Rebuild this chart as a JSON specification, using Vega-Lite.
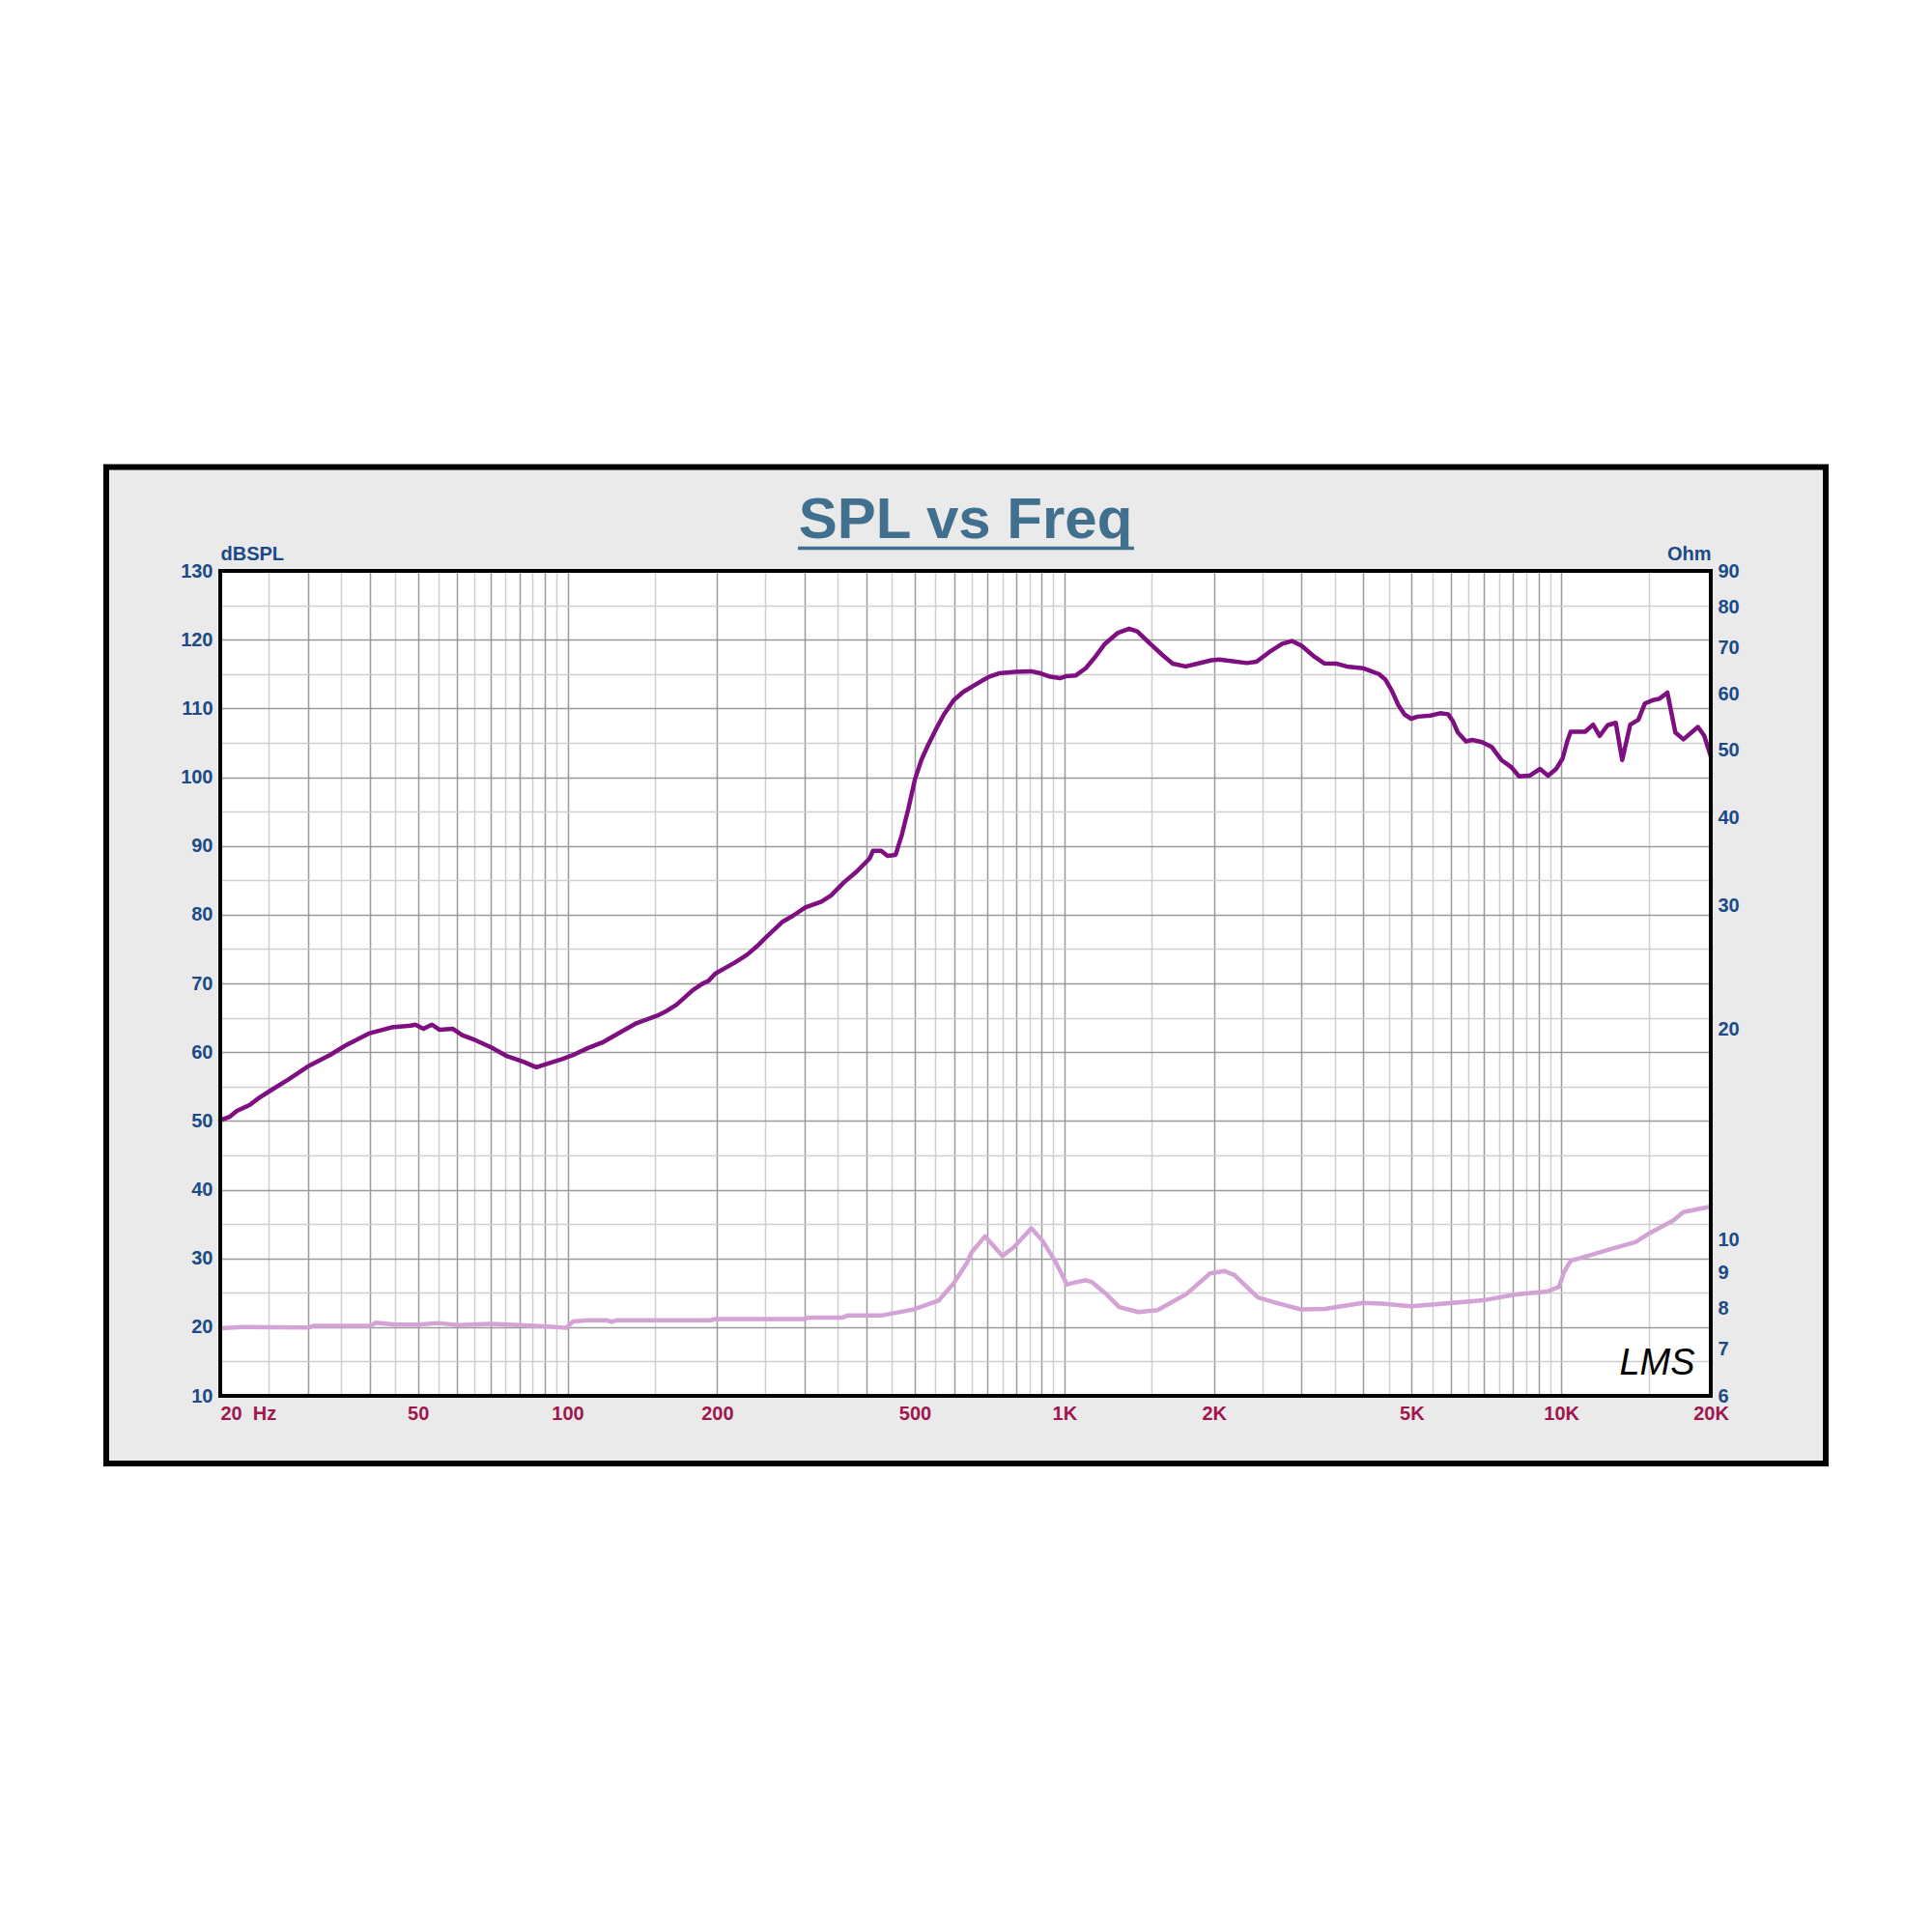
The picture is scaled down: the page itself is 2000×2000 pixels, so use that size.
{
  "$schema": "https://vega.github.io/schema/vega-lite/v6.json",
  "width": 1543,
  "height": 854,
  "autosize": {"type": "none"},
  "padding": {"left": 228, "top": 591, "right": 229, "bottom": 555},
  "background": "white",
  "config": {"view": {"stroke": null, "fill": "white"}, "font": "Liberation Sans"},
  "title": {
    "text": "SPL vs Freq",
    "anchor": "middle",
    "font": "Liberation Sans",
    "fontSize": 60,
    "fontWeight": "bold",
    "color": "#41708f",
    "baseline": "alphabetic",
    "offset": -136,
    "zindex": 1
  },
  "datasets": {
    "spl": [
      {"f":20,"db":50.1},{"f":20.9,"db":50.6},{"f":21.6,"db":51.45},{"f":22.9,"db":52.3},{"f":24,"db":53.4},{"f":25.1,"db":54.3},{"f":27.4,"db":56.0},{"f":30,"db":57.9},{"f":33.3,"db":59.6},{"f":35.9,"db":61.05},{"f":39.8,"db":62.7},{"f":44.2,"db":63.6},{"f":48.3,"db":63.85},{"f":49.4,"db":64.0},{"f":51.3,"db":63.4},{"f":53.3,"db":64.0},{"f":55.3,"db":63.25},{"f":58.7,"db":63.4},{"f":61.4,"db":62.45},{"f":65.2,"db":61.75},{"f":70.2,"db":60.7},{"f":75.6,"db":59.4},{"f":81.5,"db":58.6},{"f":86.5,"db":57.8},{"f":91.8,"db":58.4},{"f":97.5,"db":59.0},{"f":102,"db":59.5},{"f":110,"db":60.6},{"f":117.5,"db":61.4},
      {"f":137.5,"db":64.2},{"f":151.5,"db":65.3},{"f":158.4,"db":66.0},{"f":165.7,"db":66.9},{"f":178.6,"db":69.0},{"f":186.8,"db":69.95},{"f":192.4,"db":70.4},{"f":198.2,"db":71.4},{"f":216.8,"db":73.0},{"f":230.1,"db":74.2},{"f":240.6,"db":75.4},{"f":251.7,"db":76.8},{"f":271.3,"db":79.0},{"f":283.7,"db":79.8},{"f":301,"db":81.05},{"f":324.4,"db":81.9},{"f":339.3,"db":82.8},{"f":360.1,"db":84.7},{"f":382.4,"db":86.3},{"f":405.8,"db":88.2},{"f":412,"db":89.3},{"f":427.8,"db":89.3},{"f":440.6,"db":88.55},{"f":457.4,"db":88.7},{"f":471.2,"db":91.7},{"f":485.6,"db":95.5},{"f":500.4,"db":99.7},{"f":515.4,"db":102.5},{"f":531.2,"db":104.6},{"f":555.5,"db":107.4},{"f":572,"db":109.1},{"f":599,"db":111.2},{"f":626,"db":112.4},{"f":664,"db":113.5},{"f":705,"db":114.6},{"f":738,"db":115.1},{"f":795,"db":115.3},{"f":857,"db":115.4},{"f":896,"db":115.1},{"f":937,"db":114.6},{"f":980,"db":114.4},{"f":1009,"db":114.7},{"f":1055,"db":114.8},{"f":1104,"db":115.85},{"f":1154,"db":117.5},{"f":1207,"db":119.4},{"f":1282,"db":121.0},{"f":1350,"db":121.6},{"f":1402,"db":121.2},{"f":1488,"db":119.4},{"f":1579,"db":117.7},{"f":1652,"db":116.5},{"f":1754,"db":116.1},{"f":1862,"db":116.55},{"f":1976,"db":117.0},{"f":2052,"db":117.1},{"f":2162,"db":116.9},{"f":2329,"db":116.6},{"f":2436,"db":116.8},{"f":2586,"db":118.2},{"f":2746,"db":119.4},{"f":2871,"db":119.8},{"f":3003,"db":119.1},{"f":3188,"db":117.5},{"f":3333,"db":116.55},{"f":3538,"db":116.5},{"f":3700,"db":116.1},{"f":3988,"db":115.85},{"f":4109,"db":115.5},{"f":4296,"db":115.0},{"f":4426,"db":114.2},{"f":4560,"db":112.6},{"f":4699,"db":110.5},{"f":4841,"db":109.1},{"f":4988,"db":108.5},{"f":5140,"db":108.8},{"f":5457,"db":108.96},{"f":5706,"db":109.3},{"f":5921,"db":109.15},{"f":6056,"db":108.1},{"f":6194,"db":106.5},{"f":6431,"db":105.2},{"f":6622,"db":105.4},{"f":6926,"db":105.1},{"f":7244,"db":104.4},{"f":7576,"db":102.5},{"f":7922,"db":101.5},{"f":8227,"db":100.1},{"f":8666,"db":100.25},{"f":9063,"db":101.2},{"f":9411,"db":100.2},{"f":9767,"db":101.2},{"f":10064,"db":102.7},{"f":10292,"db":105.3},{"f":10446,"db":106.6},{"f":11172,"db":106.6},{"f":11594,"db":107.65},{"f":11948,"db":106.0},{"f":12400,"db":107.55},{"f":12878,"db":107.9},{"f":13264,"db":102.5},{"f":13773,"db":107.65},{"f":14295,"db":108.35},{"f":14730,"db":110.7},{"f":15290,"db":111.2},{"f":15755,"db":111.4},{"f":16355,"db":112.3},{"f":16972,"db":106.5},{"f":17618,"db":105.5},{"f":18845,"db":107.3},{"f":19407,"db":106.0},{"f":20000,"db":103.0}
    ],
    "imp": [
      {"f":20,"ohm":7.49},{"f":22.1,"ohm":7.52},{"f":30.1,"ohm":7.51},{"f":30.8,"ohm":7.55},{"f":40.2,"ohm":7.55},{"f":41.1,"ohm":7.63},{"f":45,"ohm":7.58},{"f":50,"ohm":7.58},{"f":55,"ohm":7.62},{"f":60,"ohm":7.57},{"f":70,"ohm":7.6},{"f":80,"ohm":7.57},{"f":91.7,"ohm":7.53},{"f":99.4,"ohm":7.5},{"f":102.6,"ohm":7.66},{"f":109.7,"ohm":7.69},{"f":120,"ohm":7.69},{"f":122.7,"ohm":7.65},{"f":125.5,"ohm":7.69},{"f":193.8,"ohm":7.69},{"f":198,"ohm":7.72},{"f":299,"ohm":7.72},{"f":306,"ohm":7.76},{"f":358,"ohm":7.76},{"f":366,"ohm":7.81},{"f":428,"ohm":7.81},{"f":448,"ohm":7.86},{"f":498,"ohm":7.97},{"f":558,"ohm":8.2},{"f":597,"ohm":8.66},{"f":636,"ohm":9.27},{"f":650,"ohm":9.6},{"f":692,"ohm":10.13},{"f":750,"ohm":9.5},{"f":791,"ohm":9.77},{"f":858,"ohm":10.4},{"f":905,"ohm":9.97},{"f":957,"ohm":9.35},{"f":1012,"ohm":8.65},{"f":1060,"ohm":8.72},{"f":1105,"ohm":8.77},{"f":1135,"ohm":8.72},{"f":1210,"ohm":8.4},{"f":1289,"ohm":8.03},{"f":1410,"ohm":7.9},{"f":1540,"ohm":7.95},{"f":1760,"ohm":8.38},{"f":1964,"ohm":8.97},{"f":2100,"ohm":9.04},{"f":2198,"ohm":8.92},{"f":2452,"ohm":8.29},{"f":2676,"ohm":8.14},{"f":2993,"ohm":7.97},{"f":3344,"ohm":7.98},{"f":3988,"ohm":8.14},{"f":4360,"ohm":8.12},{"f":4982,"ohm":8.05},{"f":5808,"ohm":8.12},{"f":6948,"ohm":8.21},{"f":8110,"ohm":8.37},{"f":9363,"ohm":8.45},{"f":9898,"ohm":8.58},{"f":10125,"ohm":9.0},{"f":10446,"ohm":9.35},{"f":11302,"ohm":9.5},{"f":12608,"ohm":9.72},{"f":14100,"ohm":9.94},{"f":15082,"ohm":10.24},{"f":16842,"ohm":10.68},{"f":17606,"ohm":10.97},{"f":20000,"ohm":11.17}
    ]
  },
  "layer": [
    {
      "data": {"values": [{}]},
      "mark": {"type": "rect", "fill": "#eaeaea", "strokeWidth": 0},
      "encoding": {
        "x": {"datum": 11.79, "type": "quantitative", "scale": {"type": "log", "domain": [20, 20000], "nice": false}, "axis": null},
        "x2": {"datum": 34072},
        "y": {"datum": 130, "type": "quantitative", "scale": {"type": "linear", "domain": [10, 130], "nice": false, "zero": false}, "axis": null},
        "y2": {"datum": 145.1}
      }
    },
    {
      "data": {"values": [{}]},
      "mark": {"type": "rect", "fill": "#eaeaea", "strokeWidth": 0},
      "encoding": {
        "x": {"datum": 11.79, "type": "quantitative", "scale": {"type": "log", "domain": [20, 20000], "nice": false}, "axis": null},
        "x2": {"datum": 34072},
        "y": {"datum": 0.16, "type": "quantitative", "scale": {"type": "linear", "domain": [10, 130], "nice": false, "zero": false}, "axis": null},
        "y2": {"datum": 10}
      }
    },
    {
      "data": {"values": [{}]},
      "mark": {"type": "rect", "fill": "#eaeaea", "strokeWidth": 0},
      "encoding": {
        "x": {"datum": 11.79, "type": "quantitative", "scale": {"type": "log", "domain": [20, 20000], "nice": false}, "axis": null},
        "x2": {"datum": 20},
        "y": {"datum": 0.16, "type": "quantitative", "scale": {"type": "linear", "domain": [10, 130], "nice": false, "zero": false}, "axis": null},
        "y2": {"datum": 145.1}
      }
    },
    {
      "data": {"values": [{}]},
      "mark": {"type": "rect", "fill": "#eaeaea", "strokeWidth": 0},
      "encoding": {
        "x": {"datum": 20000, "type": "quantitative", "scale": {"type": "log", "domain": [20, 20000], "nice": false}, "axis": null},
        "x2": {"datum": 34072},
        "y": {"datum": 0.16, "type": "quantitative", "scale": {"type": "linear", "domain": [10, 130], "nice": false, "zero": false}, "axis": null},
        "y2": {"datum": 145.1}
      }
    },
    {
      "data": {"values": [{}]},
      "mark": {"type": "rect", "filled": false, "stroke": "#000000", "strokeWidth": 6},
      "encoding": {
        "x": {"datum": 11.79, "type": "quantitative", "scale": {"type": "log", "domain": [20, 20000], "nice": false}, "axis": null},
        "x2": {"datum": 34072},
        "y": {"datum": 0.16, "type": "quantitative", "scale": {"type": "linear", "domain": [10, 130], "nice": false, "zero": false}, "axis": null},
        "y2": {"datum": 145.1}
      }
    },
    {
      "data": {"values": [{}]},
      "mark": {"type": "rule", "color": "#41708f", "strokeWidth": 3.5},
      "encoding": {
        "x": {"datum": 290.8, "type": "quantitative", "scale": {"type": "log", "domain": [20, 20000], "nice": false}, "axis": null},
        "x2": {"datum": 1381},
        "y": {"datum": 133.3, "type": "quantitative", "scale": {"type": "linear", "domain": [10, 130], "nice": false, "zero": false}, "axis": null}
      }
    },
    {
      "data": {"name": "spl"},
      "mark": {"type": "line", "color": "#7e0f80", "strokeWidth": 4.5, "strokeJoin": "round", "strokeCap": "round"},
      "encoding": {
        "x": {
          "field": "f", "type": "quantitative",
          "scale": {"type": "log", "domain": [20, 20000], "nice": false},
          "axis": {
            "orient": "bottom",
            "title": null,
            "values": [20,50,100,200,500,1000,2000,5000,10000,20000],
            "labelExpr": "datum.value == 20 ? '20\u00a0\u00a0Hz' : datum.value == 1000 ? '1K' : datum.value == 2000 ? '2K' : datum.value == 5000 ? '5K' : datum.value == 10000 ? '10K' : datum.value == 20000 ? '20K' : datum.label",
            "labelOverlap": false,
            "labelFlush": false,
            "labelAlign": {"condition": {"test": "datum.value == 20", "value": "left"}, "value": "center"},
            "labelFont": "Liberation Sans",
            "labelFontSize": 20,
            "labelFontWeight": "bold",
            "labelColor": "#a0174f",
            "labelPadding": 8,
            "ticks": false,
            "domain": false,
            "grid": false,
            "zindex": 1
          }
        },
        "y": {
          "field": "db", "type": "quantitative",
          "scale": {"type": "linear", "domain": [10, 130], "nice": false, "zero": false},
          "axis": {
            "orient": "left",
            "values": [10,20,30,40,50,60,70,80,90,100,110,120,130],
            "labelOverlap": false,
            "labelFlush": false,
            "labelFont": "Liberation Sans",
            "labelFontSize": 20,
            "labelFontWeight": "bold",
            "labelColor": "#1b4a87",
            "labelPadding": 8,
            "ticks": false,
            "domain": false,
            "grid": false,
            "zindex": 1,
            "title": "dBSPL",
            "titleAngle": 0,
            "titleX": 0,
            "titleY": -18,
            "titleAlign": "left",
            "titleBaseline": "middle",
            "titleFont": "Liberation Sans",
            "titleFontSize": 20,
            "titleFontWeight": "bold",
            "titleColor": "#1b4a87"
          }
        }
      }
    },
    {
      "data": {"name": "imp"},
      "mark": {"type": "line", "color": "#d3a3d6", "strokeWidth": 4.5, "strokeJoin": "round", "strokeCap": "round"},
      "encoding": {
        "x": {"field": "f", "type": "quantitative", "scale": {"type": "log", "domain": [20, 20000], "nice": false}, "axis": null},
        "y": {
          "field": "ohm", "type": "quantitative",
          "scale": {"type": "log", "domain": [6, 90], "nice": false},
          "axis": {
            "orient": "right",
            "values": [6,7,8,9,10,20,30,40,50,60,70,80,90],
            "format": "d",
            "labelOverlap": false,
            "labelFlush": false,
            "labelFont": "Liberation Sans",
            "labelFontSize": 20,
            "labelFontWeight": "bold",
            "labelColor": "#1b4a87",
            "labelPadding": 7,
            "ticks": false,
            "domain": false,
            "grid": false,
            "zindex": 1,
            "title": "Ohm",
            "titleAngle": 0,
            "titleX": 0,
            "titleY": -18,
            "titleAlign": "right",
            "titleBaseline": "middle",
            "titleFont": "Liberation Sans",
            "titleFontSize": 20,
            "titleFontWeight": "bold",
            "titleColor": "#1b4a87"
          }
        }
      }
    },
    {
      "data": {"values": [{}]},
      "mark": {"type": "rect", "filled": false, "stroke": "#000000", "strokeWidth": 4},
      "encoding": {
        "x": {
          "datum": 20, "type": "quantitative", "scale": {"type": "log", "domain": [20, 20000], "nice": false},
          "axis": {
            "orient": "bottom",
            "title": null,
            "labels": false,
            "ticks": false,
            "domain": false,
            "grid": true,
            "zindex": 0,
            "minExtent": 0,
            "maxExtent": 0,
            "values": [20,25,30,35,40,45,50,55,60,65,70,75,80,85,90,95,100,150,200,250,300,350,400,450,500,550,600,650,700,750,800,850,900,950,1000,1500,2000,2500,3000,3500,4000,4500,5000,5500,6000,6500,7000,7500,8000,8500,9000,9500,10000,15000,20000],
            "gridWidth": 1.5,
            "gridColor": {"condition": {"test": "indexof([20,30,40,50,60,70,80,90,100,200,300,400,500,600,700,800,900,1000,2000,3000,4000,5000,6000,7000,8000,9000,10000,20000], datum.value) >= 0", "value": "#9a9a9a"}, "value": "#cfcfcf"}
          }
        },
        "x2": {"datum": 20000},
        "y": {
          "datum": 10, "type": "quantitative", "scale": {"type": "linear", "domain": [10, 130], "nice": false, "zero": false},
          "axis": {
            "orient": "left",
            "title": null,
            "labels": false,
            "ticks": false,
            "domain": false,
            "grid": true,
            "zindex": 0,
            "minExtent": 0,
            "maxExtent": 0,
            "values": [10,15,20,25,30,35,40,45,50,55,60,65,70,75,80,85,90,95,100,105,110,115,120,125,130],
            "gridWidth": 1.5,
            "gridColor": {"condition": {"test": "datum.value % 10 == 0", "value": "#9a9a9a"}, "value": "#cfcfcf"}
          }
        },
        "y2": {"datum": 130}
      }
    },
    {
      "data": {"values": [{"t": "LMS"}]},
      "mark": {"type": "text", "font": "Liberation Sans", "fontSize": 38, "fontStyle": "italic", "color": "#000000", "align": "center", "baseline": "middle"},
      "encoding": {
        "x": {"datum": 15600, "type": "quantitative", "scale": {"type": "log", "domain": [20, 20000], "nice": false}, "axis": null},
        "y": {"datum": 14.6, "type": "quantitative", "scale": {"type": "linear", "domain": [10, 130], "nice": false, "zero": false}, "axis": null},
        "text": {"field": "t", "type": "nominal"}
      }
    }
  ],
  "resolve": {"scale": {"x": "independent", "y": "independent"}}
}
